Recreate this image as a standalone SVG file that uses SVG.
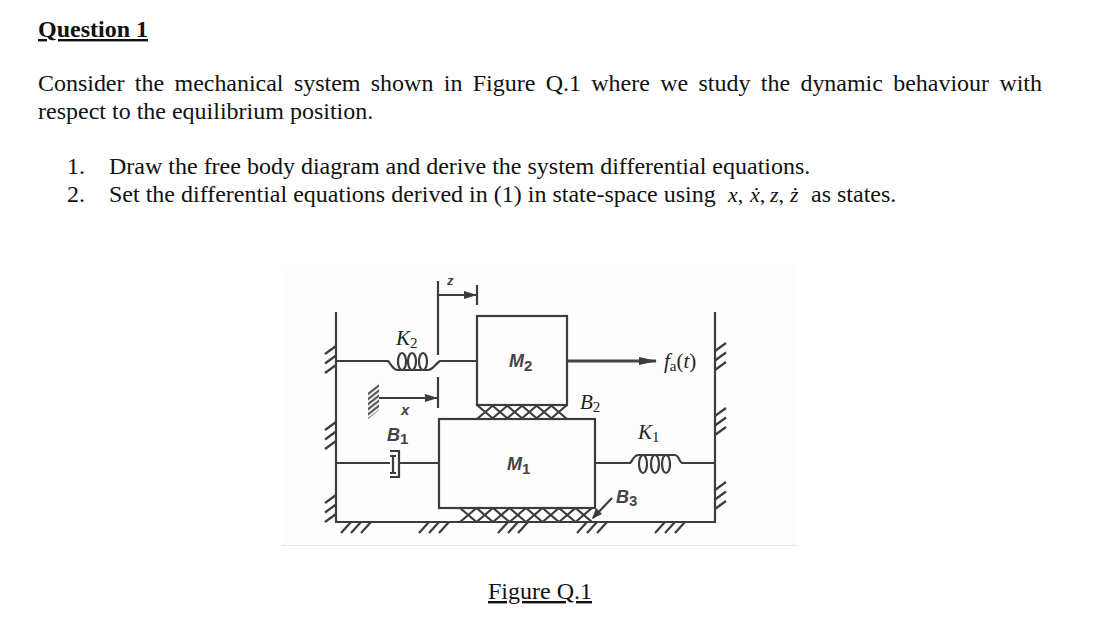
<svg xmlns="http://www.w3.org/2000/svg" width="1102" height="620" viewBox="0 0 1102 620">
<style>
.t{font-family:"Liberation Serif","Times New Roman",serif;font-size:24px;fill:#111}
.m{font-family:"Liberation Serif","Times New Roman",serif;font-size:22px;fill:#111;font-style:italic}
.l{fill:none;stroke:#3c3c3c;stroke-width:2.2}
.i{font-family:"Liberation Serif",serif;font-style:italic;font-size:21px;fill:#222}
.b{font-family:"Liberation Sans",sans-serif;font-style:italic;font-weight:bold;font-size:18px;fill:#444}
.s{font-size:15px;font-style:normal}
</style>
<defs>
<marker id="a" markerWidth="13" markerHeight="8" refX="12" refY="4" orient="auto" markerUnits="userSpaceOnUse"><path d="M0 0L13 4L0 8Z" fill="#3c3c3c"/></marker>
<marker id="f" markerWidth="18" markerHeight="8" refX="17" refY="4" orient="auto" markerUnits="userSpaceOnUse"><path d="M0 0L18 4L0 8Z" fill="#3c3c3c"/></marker>
<path id="hr" d="M0 0l11-8M0 9.500l11-8M0 19l11-8" class="l"/>
<path id="hb" d="M0 0l10-11M10 0l10-11M20 0l10-11" class="l"/>
<path id="c" d="M0 0L16.500 14M16.500 0L0 14" class="l"/>
<pattern id="w" width="4" height="4" patternUnits="userSpaceOnUse" patternTransform="rotate(-38)"><rect width="4" height="2.200" fill="#555"/></pattern>
</defs>
<rect width="1102" height="620" fill="#fff"/>
<rect x="282" y="266" width="515" height="279" fill="#fdfdfd"/>
<line x1="282" y1="545.500" x2="797" y2="545.500" stroke="#e6e6e6"/>
<g id="text">
<text class="t" x="38" y="37" style="font-weight:bold;text-decoration:underline">Question 1</text>
<text class="t" x="38" y="91" textLength="1004" lengthAdjust="spacing" word-spacing="4.4">Consider the mechanical system shown in Figure Q.1 where we study the dynamic behaviour with</text>
<text class="t" x="38" y="119">respect to the equilibrium position.</text>
<text class="t" x="67" y="174">1.</text><text class="t" x="109" y="174">Draw the free body diagram and derive the system differential equations.</text>
<text class="t" x="67" y="202">2.</text><text class="t" x="109" y="202">Set the differential equations derived in (1) in state-space using</text>
<text class="m" x="728" y="202">x<tspan font-style="normal">,</tspan></text>
<text class="m" x="750" y="202">ẋ<tspan font-style="normal">,</tspan></text>
<text class="m" x="770" y="202">z<tspan font-style="normal">,</tspan></text>
<text class="m" x="790" y="202">ż</text>
<text class="t" x="811" y="202">as states.</text>
<text class="t" x="488" y="599" style="text-decoration:underline">Figure Q.1</text>
</g>
<g id="connectors">
<path class="l" d="M336 312V522H715V312"/>
<path class="l" d="M336 361H388c3 3 5 9 10 9H428c5 0 7-6 12-9H477"/>
<ellipse class="l" cx="402" cy="361.500" rx="4" ry="8.500"/><ellipse class="l" cx="412" cy="361.500" rx="4" ry="8.500"/><ellipse class="l" cx="423" cy="361.500" rx="4" ry="8.500"/>
<path class="l" d="M438 281V355M438 377V408"/>
<path class="l" d="M438 295H476" marker-end="url(#a)"/><path class="l" d="M477 285V305"/>
<path class="l" d="M379 398H437" marker-end="url(#a)"/>
<path d="M379 383V410L368 419V392Z" fill="url(#w)"/>
<path d="M567 361H656" stroke="#444" stroke-width="3" marker-end="url(#f)"/>
<path class="l" d="M336 463H390M399 463H439"/>
<path class="l" d="M390 451H399V477H390M390 456H396M393 456V473M390 473H396"/>
<path class="l" d="M595 463H630c3-2 3-8 9-8H674c6 0 4 6 8 8H715"/>
<ellipse class="l" cx="643" cy="464" rx="4" ry="9"/><ellipse class="l" cx="655" cy="464" rx="4" ry="9"/><ellipse class="l" cx="666" cy="464" rx="4" ry="9"/>
<path class="l" d="M593 518L612 498"/>
<path d="M592 519l4-11 6 6Z" fill="#3c3c3c"/>
<g>
<use href="#hr" x="325" y="354"/><use href="#hr" x="325" y="430"/><use href="#hr" x="325" y="503"/>
<use href="#hr" x="715" y="351"/><use href="#hr" x="715" y="416"/><use href="#hr" x="715" y="490"/>
<use href="#hb" x="341" y="533"/><use href="#hb" x="419" y="533"/><use href="#hb" x="498" y="533"/><use href="#hb" x="577" y="533"/><use href="#hb" x="655" y="533"/>
</g>
</g>
<g id="roller-upper"><use href="#c" x="477" y="405"/><use href="#c" x="491.700" y="405"/><use href="#c" x="506.400" y="405"/><use href="#c" x="521.100" y="405"/><use href="#c" x="535.800" y="405"/><use href="#c" x="550.500" y="405"/></g>
<g id="roller-lower"><use href="#c" x="460" y="508"/><use href="#c" x="476.500" y="508"/><use href="#c" x="493" y="508"/><use href="#c" x="509.500" y="508"/><use href="#c" x="526" y="508"/><use href="#c" x="542.500" y="508"/><use href="#c" x="559" y="508"/><use href="#c" x="575.500" y="508"/></g>
<g id="M2"><rect x="477" y="316" width="90" height="89" fill="#fdfdfd" class="l"/><text class="b" x="509" y="367">M<tspan class="s" dy="4">2</tspan></text></g>
<g id="M1"><rect x="439" y="419" width="156" height="89" fill="#fdfdfd" class="l"/><text class="b" x="507" y="470">M<tspan class="s" dy="4">1</tspan></text></g>
<g id="labels">
<text class="i" x="396" y="345">K<tspan class="s" dy="3" font-size="17">2</tspan></text>
<text class="i" x="580" y="409">B<tspan class="s" dy="3">2</tspan></text>
<text class="i" x="638" y="439">K<tspan class="s" dy="3">1</tspan></text>
<text class="i" x="664" y="368">f<tspan class="s" dy="3">a</tspan><tspan dy="-3" font-style="normal">(</tspan>t<tspan font-style="normal">)</tspan></text>
<text class="b" x="447" y="285" style="font-size:13px">z</text>
<text class="b" x="401" y="415" style="font-size:15px">x</text>
<text class="b" x="387" y="441">B<tspan class="s" dy="3">1</tspan></text>
<text class="b" x="616" y="503">B<tspan class="s" dy="3">3</tspan></text>
</g>
</svg>
